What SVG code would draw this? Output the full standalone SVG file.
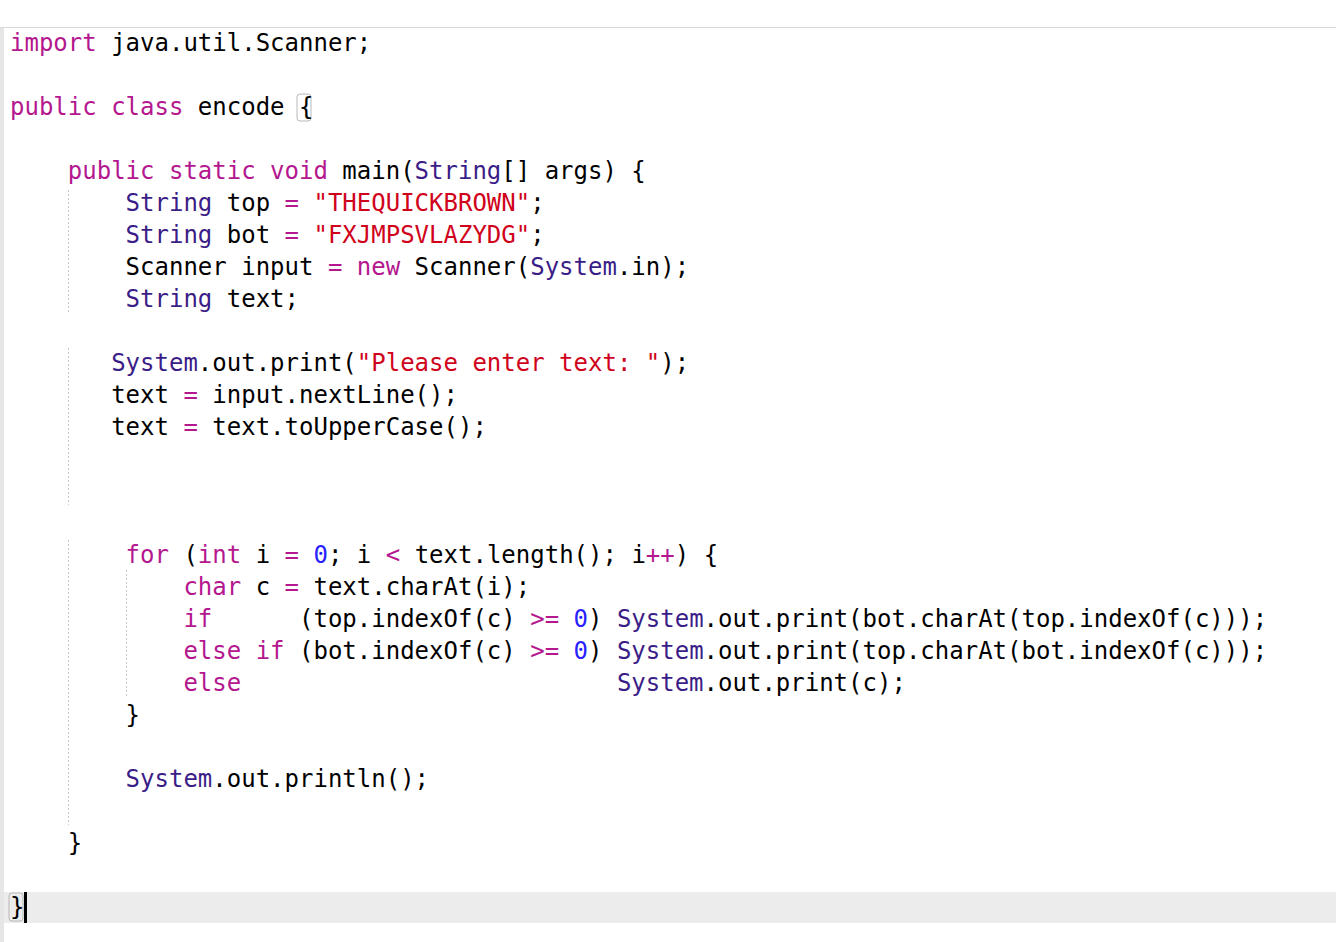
<svg xmlns="http://www.w3.org/2000/svg" width="1336" height="942" viewBox="0 0 1336 942">
<style>
text{font-family:"DejaVu Sans Mono","Liberation Mono",monospace;font-size:24px;fill:#000;white-space:pre}
.k{fill:#b4178e}.t{fill:#3b1d87}.s{fill:#d0021b}.n{fill:#2a1fff}
.g{stroke:#c8c8c8;stroke-width:1;stroke-dasharray:2 2}
</style>
<rect width="1336" height="942" fill="#fff"/>
<line x1="0" y1="27.5" x2="1336" y2="27.5" stroke="#d8d8d8"/>
<rect x="0" y="28" width="4" height="914" fill="#e6e6e6"/>
<rect x="4" y="892" width="1332" height="31" fill="#ececec"/>
<g id="guides">
<line class="g" x1="68.5" y1="190" x2="68.5" y2="313"/>
<line class="g" x1="68.5" y1="348" x2="68.5" y2="505"/>
<line class="g" x1="68.5" y1="540" x2="68.5" y2="825"/>
<line class="g" x1="126.5" y1="570" x2="126.5" y2="697"/>
</g>
<rect x="297" y="94" width="14" height="27" rx="3" fill="none" stroke="#b8b8b8"/>
<rect x="9" y="893" width="14" height="28" rx="3" fill="none" stroke="#b8b8b8"/>
<rect x="24" y="892" width="3" height="31" fill="#000"/>
<g id="code" xml:space="preserve">
<text x="10" y="51"><tspan class="k">import</tspan> java.util.Scanner;</text>
<text x="10" y="115"><tspan class="k">public</tspan> <tspan class="k">class</tspan> encode {</text>
<text x="10" y="179">    <tspan class="k">public</tspan> <tspan class="k">static</tspan> <tspan class="k">void</tspan> main(<tspan class="t">String</tspan>[] args) {</text>
<text x="10" y="211">        <tspan class="t">String</tspan> top <tspan class="k">=</tspan> <tspan class="s">"THEQUICKBROWN"</tspan>;</text>
<text x="10" y="243">        <tspan class="t">String</tspan> bot <tspan class="k">=</tspan> <tspan class="s">"FXJMPSVLAZYDG"</tspan>;</text>
<text x="10" y="275">        Scanner input <tspan class="k">=</tspan> <tspan class="k">new</tspan> Scanner(<tspan class="t">System</tspan>.in);</text>
<text x="10" y="307">        <tspan class="t">String</tspan> text;</text>
<text x="10" y="371">       <tspan class="t">System</tspan>.out.print(<tspan class="s">"Please enter text: "</tspan>);</text>
<text x="10" y="403">       text <tspan class="k">=</tspan> input.nextLine();</text>
<text x="10" y="435">       text <tspan class="k">=</tspan> text.toUpperCase();</text>
<text x="10" y="563">        <tspan class="k">for</tspan> (<tspan class="k">int</tspan> i <tspan class="k">=</tspan> <tspan class="n">0</tspan>; i <tspan class="k">&lt;</tspan> text.length(); i<tspan class="k">++</tspan>) {</text>
<text x="10" y="595">            <tspan class="k">char</tspan> c <tspan class="k">=</tspan> text.charAt(i);</text>
<text x="10" y="627">            <tspan class="k">if</tspan>      (top.indexOf(c) <tspan class="k">&gt;=</tspan> <tspan class="n">0</tspan>) <tspan class="t">System</tspan>.out.print(bot.charAt(top.indexOf(c)));</text>
<text x="10" y="659">            <tspan class="k">else</tspan> <tspan class="k">if</tspan> (bot.indexOf(c) <tspan class="k">&gt;=</tspan> <tspan class="n">0</tspan>) <tspan class="t">System</tspan>.out.print(top.charAt(bot.indexOf(c)));</text>
<text x="10" y="691">            <tspan class="k">else</tspan>                          <tspan class="t">System</tspan>.out.print(c);</text>
<text x="10" y="723">        }</text>
<text x="10" y="787">        <tspan class="t">System</tspan>.out.println();</text>
<text x="10" y="851">    }</text>
<text x="10" y="915">}</text>
</g>
</svg>
